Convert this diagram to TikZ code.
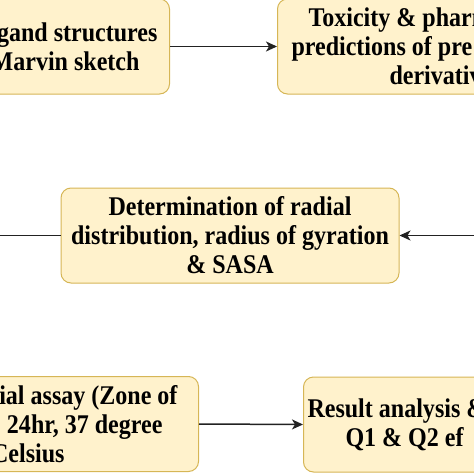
\documentclass[tikz,border=0pt]{standalone}
\usepackage{fontspec}
\setmainfont[FakeStretch=0.89]{Liberation Serif}
\usetikzlibrary{arrows.meta}
\definecolor{boxfill}{HTML}{FFF2CC}
\definecolor{boxedge}{HTML}{D6B656}
\definecolor{linecol}{HTML}{222222}
\newcommand{\padr}[1]{\makebox[#1]{}}
\tikzset{
	stepbox/.style={draw=boxedge,fill=boxfill,line width=1pt,rounded corners=10pt,
		minimum height=95pt,inner ysep=0pt,
		font=\fontsize{27}{29}\selectfont\bfseries},
	flow/.style={-{Stealth[length=11pt,width=10pt,inset=3pt]},color=linecol,line width=1.5pt}
}
\begin{document}
\begin{tikzpicture}[x=1pt,y=-1pt]
\useasboundingbox (0,0) rectangle (474,474);

\node[stepbox,text width=238pt,inner xsep=12pt,align=flush right,anchor=east] (lig) at (170,46.5)
	{gand structures\\Marvin sketch\padr{18pt}};
\node[stepbox,text width=300pt,inner xsep=14pt,align=flush left,anchor=west] (tox) at (277,46.5)
	{\padr{17pt}Toxicity \& pharm\\predictions of pre\\\padr{98pt}derivativ};

\node[stepbox,minimum width=338pt,align=center] (rad) at (230,235.5)
	{Determination of radial\\distribution, radius of gyration\\\& SASA};
\coordinate (rin) at (480,235.5);
\coordinate (lout) at (-6,235.5);

\node[stepbox,text width=250pt,inner xsep=21pt,align=flush right,anchor=east] (assay) at (199,424)
	{ial assay (Zone of\\24hr, 37 degree\padr{15pt}\\Celsius\padr{113pt}};
\node[stepbox,text width=300pt,inner xsep=4pt,align=flush left,anchor=west] (res) at (303,424.5)
	{Result analysis \&\\\padr{38pt}Q1 \& Q2 ef};

\draw[flow] (lig.east) -- (tox.west);
\draw[flow] (rin) -- (rad.east);
\draw[color=linecol,line width=1.5pt] (rad.west) -- (lout);
\draw[flow] (assay.east) -- (res.west);
\end{tikzpicture}
\end{document}
